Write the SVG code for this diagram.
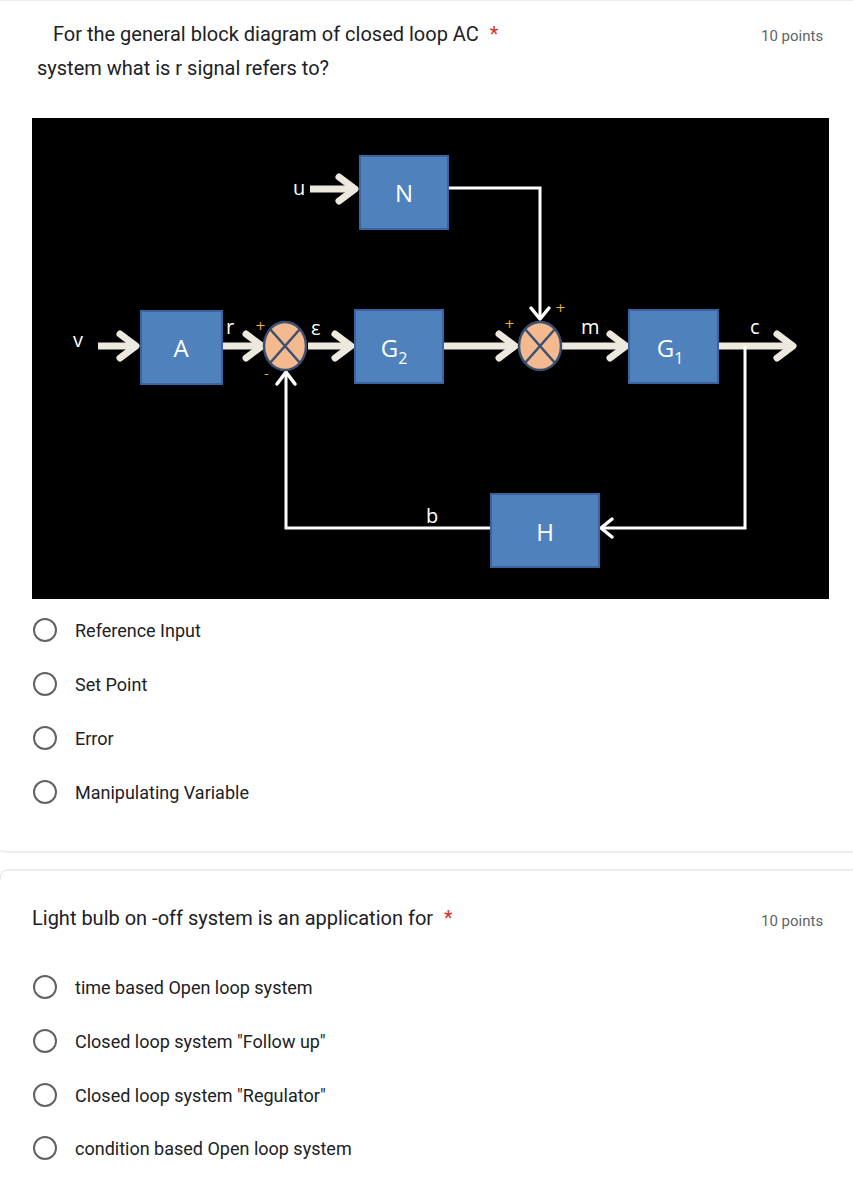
<svg xmlns="http://www.w3.org/2000/svg" width="853" height="1192" viewBox="0 0 853 1192">
<style>
.q{font-family:Roboto,"Liberation Sans",sans-serif;font-size:20px;fill:#202124}
.o{font-family:Roboto,"Liberation Sans",sans-serif;font-size:18px;fill:#202124}
.p{font-family:Roboto,"Liberation Sans",sans-serif;font-size:15px;fill:#5f6368}
.st{fill:#d93025}
.rad{fill:none;stroke:#5f6368;stroke-width:2}
.blk{fill:#4f81bd;stroke:#3a64a0;stroke-width:2}
.bl{font-family:"Open Sans","DejaVu Sans",sans-serif;font-size:24px;fill:#fff;text-anchor:middle}
.sl{font-family:"Open Sans","DejaVu Sans",sans-serif;font-size:20px;fill:#fff}
.pl{font-family:"DejaVu Sans",sans-serif;font-size:13px;fill:#f0b030}
.thick{fill:none;stroke:#ede9df;stroke-width:7}
.head{fill:none;stroke:#ede9df;stroke-width:7;stroke-linecap:round;stroke-linejoin:round}
.thin{fill:none;stroke:#fff;stroke-width:3}
.th{fill:none;stroke:#fff;stroke-width:3.5;stroke-linecap:round;stroke-linejoin:round}
.sum{fill:#f4b98f;stroke:#3a5070;stroke-width:2.5}
.x{stroke:#3a5070;stroke-width:2.5}
</style>
<rect width="853" height="1192" fill="#fff"/>
<path d="M0 0 H853 M0 850 Q0 852 8 852 H853 M0 880 Q0 870 8 870 H853" stroke="#dadce0" fill="none"/>
<text class="q" x="53" y="41">For the general block diagram of closed loop AC <tspan class="st" dx="6">*</tspan></text>
<text class="q" x="37" y="75">system what is  r  signal refers to?</text>
<text class="p" x="761" y="41">10 points</text>
<rect x="32" y="118" width="797" height="481" fill="#000"/>
<g id="connectors">
<path class="thick" d="M98 346 H134"/><path class="head" d="M120 334 L136 346 L120 358"/>
<path class="thick" d="M222 346 H259"/><path class="head" d="M246 334 L262 346 L246 358"/>
<path class="thick" d="M308 346 H348"/><path class="head" d="M335 334 L351 346 L335 358"/>
<path class="thick" d="M310 189 H352"/><path class="head" d="M339 177 L355 189 L339 201"/>
<path class="thick" d="M443 346 H512"/><path class="head" d="M499 334 L515 346 L499 358"/>
<path class="thick" d="M562 346 H623"/><path class="head" d="M610 334 L626 346 L610 358"/>
<path class="thick" d="M718 346 H790"/><path class="head" d="M777 334 L793 346 L777 358"/>
<path class="thin" d="M448 188 H540 V318"/><path class="th" d="M531 308 L540 319 L549 308"/>
<path class="thin" d="M745 346 V528 H602"/><path class="th" d="M612 519 L601 528 L612 537"/>
<path class="thin" d="M491 528 H286 V374"/><path class="th" d="M277 384 L286 372 L295 384"/>
</g>
<g id="A"><rect class="blk" x="141" y="311" width="81" height="73"/><text class="bl" x="181" y="357">A</text></g>
<g id="N"><rect class="blk" x="360" y="156" width="88" height="73"/><text class="bl" x="404" y="202">N</text></g>
<g id="G2"><rect class="blk" x="355" y="310" width="88" height="73"/><text class="bl" x="394" y="357">G<tspan font-size="16" dy="7">2</tspan></text></g>
<g id="G1"><rect class="blk" x="629" y="310" width="89" height="73"/><text class="bl" x="670" y="357">G<tspan font-size="16" dy="7">1</tspan></text></g>
<g id="H"><rect class="blk" x="491" y="494" width="108" height="73"/><text class="bl" x="545" y="541">H</text></g>
<g id="sum1"><ellipse class="sum" cx="285" cy="346" rx="21" ry="24"/><path class="x" d="M270 329 L300 363 M300 329 L270 363"/></g>
<g id="sum2"><ellipse class="sum" cx="540" cy="346" rx="21" ry="24"/><path class="x" d="M525 329 L555 363 M555 329 L525 363"/></g>
<g id="labels">
<text class="sl" x="73" y="347" font-size="17">v</text>
<text class="sl" x="226" y="334">r</text>
<text class="pl" x="255" y="330">+</text>
<text class="pl" x="264" y="378" font-size="11">-</text>
<text class="sl" x="311" y="335">ε</text>
<text class="sl" x="293" y="195">u</text>
<text class="pl" x="504" y="328">+</text>
<text class="pl" x="555" y="312">+</text>
<text class="sl" x="581" y="334">m</text>
<text class="sl" x="750" y="334">c</text>
<text class="sl" x="426" y="523">b</text>
</g>
<g id="opts1">
<circle class="rad" cx="45" cy="630" r="11"/><text class="o" x="75" y="637">Reference Input</text>
<circle class="rad" cx="45" cy="684" r="11"/><text class="o" x="75" y="691">Set Point</text>
<circle class="rad" cx="45" cy="738" r="11"/><text class="o" x="75" y="745">Error</text>
<circle class="rad" cx="45" cy="792" r="11"/><text class="o" x="75" y="799">Manipulating Variable</text>
</g>
<text class="q" x="32" y="925">Light bulb on -off system is an application for <tspan class="st" dx="6">*</tspan></text>
<text class="p" x="761" y="926">10 points</text>
<g id="opts2">
<circle class="rad" cx="45" cy="987" r="11"/><text class="o" x="75" y="994">time based Open loop system</text>
<circle class="rad" cx="45" cy="1041" r="11"/><text class="o" x="75" y="1048">Closed loop system "Follow up"</text>
<circle class="rad" cx="45" cy="1095" r="11"/><text class="o" x="75" y="1102">Closed loop system "Regulator"</text>
<circle class="rad" cx="45" cy="1148" r="11"/><text class="o" x="75" y="1155">condition based Open loop system</text>
</g>
</svg>
